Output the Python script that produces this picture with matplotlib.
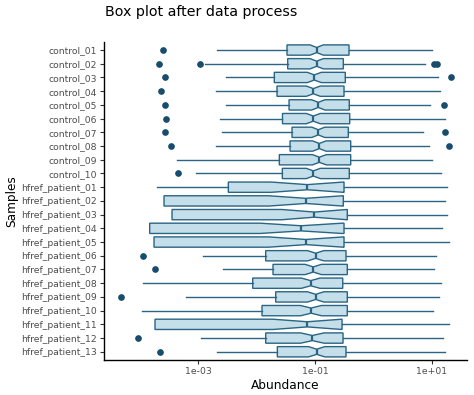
import numpy as np
import matplotlib
matplotlib.use("Agg")
import matplotlib.pyplot as plt

# Datos (log10 de la abundancia)
muestras = ['control_01', 'control_02', 'control_03', 'control_04', 'control_05',
            'control_06', 'control_07', 'control_08', 'control_09', 'control_10',
            'hfref_patient_01', 'hfref_patient_02', 'hfref_patient_03',
            'hfref_patient_04', 'hfref_patient_05', 'hfref_patient_06',
            'hfref_patient_07', 'hfref_patient_08', 'hfref_patient_09',
            'hfref_patient_10', 'hfref_patient_11', 'hfref_patient_12',
            'hfref_patient_13']

bigote_inf = [-2.675, -2.880, -2.521, -2.692, -2.521, -2.624, -2.595, -2.692, -3.364, -3.039,
              -3.696, -3.581, -3.444, -3.826, -3.752, -2.920, -2.568, -3.935, -3.205, -3.957,
              -3.735, -2.949, -2.680]
q1 = [-1.479, -1.467, -1.696, -1.650, -1.444, -1.556, -1.393, -1.427, -1.610, -1.559,
      -2.482, -3.581, -3.444, -3.826, -3.752, -1.843, -1.718, -2.065, -1.672, -1.906,
      -3.735, -1.843, -1.644]
mediana = [-0.971, -0.971, -1.012, -1.029, -0.944, -1.029, -0.944, -0.926, -0.926, -1.029,
           -1.132, -1.159, -1.012, -1.239, -1.154, -0.988, -1.029, -1.074, -0.988, -1.068,
           -1.132, -1.046, -0.971]
q3 = [-0.419, -0.516, -0.482, -0.504, -0.414, -0.407, -0.431, -0.390, -0.390, -0.414,
      -0.504, -0.516, -0.448, -0.504, -0.504, -0.470, -0.448, -0.526, -0.448, -0.448,
      -0.538, -0.521, -0.470]
bigote_sup = [1.000, 0.880, 1.108, 1.137, 0.966, 1.222, 0.851, 0.949, 0.995, 1.149,
              1.251, 1.217, 1.251, 1.166, 1.291, 1.063, 1.039, 1.154, 1.125, 1.012,
              1.286, 1.193, 1.222]
muesca = [0.115, 0.115, 0.12, 0.12, 0.115, 0.12, 0.11, 0.115, 0.12, 0.12,
          0.62, 0.63, 0.56, 0.70, 0.64, 0.14, 0.14, 0.16, 0.14, 0.18,
          0.59, 0.20, 0.14]
atipicos = [[-3.598], [-3.662, -2.966, 1.026, 1.077], [-3.569, 1.325], [-3.638],
            [-3.564, 1.205], [-3.547], [-3.559, 1.217], [-3.462, 1.296], [], [-3.347],
            [], [], [], [], [], [-3.940], [-3.735], [], [-4.321], [], [], [-4.031], [-3.644]]

borde = '#2a6584'
relleno = '#c4deea'
puntos = '#174c6c'

# Estadisticos para bxp (en escala real)
stats = []
for i, nombre in enumerate(muestras):
    stats.append({
        'label': nombre,
        'whislo': 10 ** bigote_inf[i],
        'q1': 10 ** q1[i],
        'med': 10 ** mediana[i],
        'q3': 10 ** q3[i],
        'whishi': 10 ** bigote_sup[i],
        'cilo': 10 ** (mediana[i] - muesca[i]),
        'cihi': 10 ** (mediana[i] + muesca[i]),
        'fliers': 10 ** np.array(atipicos[i]),
    })

n = len(muestras)
posiciones = np.arange(n, 0, -1)

fig = plt.figure(figsize=(4.74, 3.95), dpi=100)
ax = fig.add_axes([104 / 474, 1 - 360 / 395, 363 / 474, (360 - 41.8) / 395])

ax.bxp(stats, positions=posiciones, widths=0.75, orientation='horizontal',
       shownotches=True, showcaps=False, patch_artist=True,
       boxprops=dict(facecolor=relleno, edgecolor=borde, linewidth=1.0),
       whiskerprops=dict(color=borde, linewidth=1.0),
       medianprops=dict(color=borde, linewidth=1.6),
       flierprops=dict(marker='o', markerfacecolor=puntos, markeredgecolor=puntos,
                       markersize=3.8, linestyle='none'))

ax.set_xscale('log')
ax.set_xlim(10 ** -4.607, 10 ** 1.598)
ax.set_ylim(0.4, n + 0.6)
ax.set_xticks([1e-3, 1e-1, 1e1])
ax.set_xticklabels(['1e-03', '1e-01', '1e+01'])
ax.xaxis.set_minor_locator(matplotlib.ticker.NullLocator())
ax.set_yticks(posiciones)
ax.set_yticklabels(muestras)

for s in ['top', 'right']:
    ax.spines[s].set_visible(False)
for s in ['left', 'bottom']:
    ax.spines[s].set_linewidth(1.0)
    ax.spines[s].set_color('black')
ax.tick_params(axis='both', length=3, width=0.8, color='#333333',
               labelsize=6.7, labelcolor='#4d4d4d', pad=2)

ax.set_xlabel('Abundance', fontsize=8.7, labelpad=2)
ax.set_ylabel('Samples', fontsize=8.7)
ax.yaxis.set_label_coords(-0.237, 0.5)
fig.text(105 / 474, 1 - 12.3 / 395, 'Box plot after data process',
         fontsize=10.3, ha='left', va='center')

plt.savefig('out.png', dpi=100)
